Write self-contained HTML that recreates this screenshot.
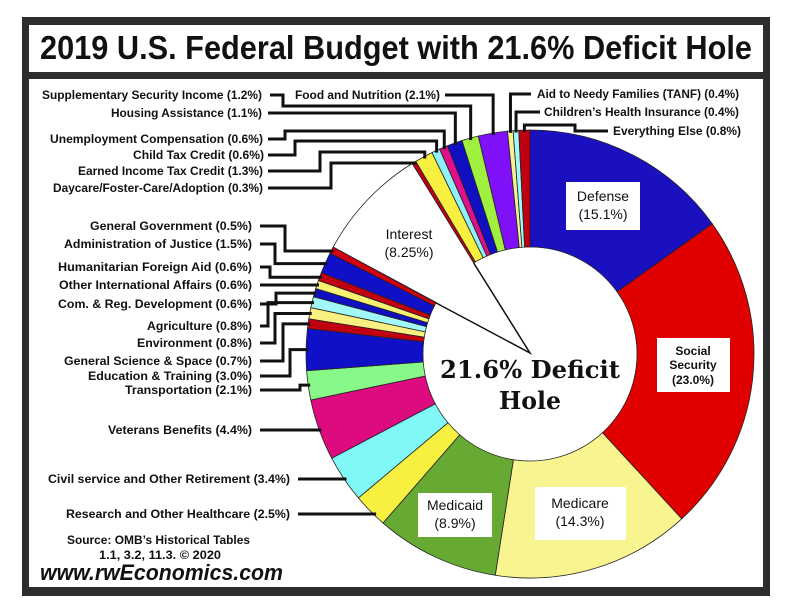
<!DOCTYPE html>
<html><head><meta charset="utf-8"><style>
html,body{margin:0;padding:0;background:#fff;}
svg{display:block;font-family:"Liberation Sans",Arial,sans-serif;}
</style></head><body>
<svg id="s" width="792" height="612" viewBox="0 0 792 612" xmlns="http://www.w3.org/2000/svg">
<rect x="22" y="17" width="748" height="579" fill="#2b2d2f"/>
<rect x="29" y="25" width="734" height="47" fill="#fff"/>
<rect x="29" y="79" width="734" height="508" fill="#fff"/>
<text x="40" y="59" font-size="33" font-weight="bold" textLength="712" lengthAdjust="spacingAndGlyphs" fill="#111">2019 U.S. Federal Budget with 21.6% Deficit Hole</text>
<g id="pie"></g>
<g id="lines" fill="none" stroke="#111" stroke-width="3"></g>
<g id="labels" font-size="12" font-weight="bold" fill="#111"></g>
</svg>
<script>
var cx=530,cy=354,R=224,r=107;
var d=[
["Defense",15.1,"#1a10c0"],["SS",23.0,"#e00000"],["Medicare",14.3,"#f8f590"],["Medicaid",8.9,"#66aa33"],
["Research",2.5,"#f8f040"],["Civil",3.4,"#80f8f8"],["Veterans",4.4,"#dd0a80"],["Transport",2.1,"#88f888"],
["Education",3.0,"#1010c8"],["GenSci",0.7,"#c00010"],["Env",0.8,"#f8f080"],["Agri",0.8,"#a0f8f8"],
["Com",0.6,"#1010c0"],["OtherIntl",0.6,"#f8f070"],["Hum",0.6,"#c00010"],["Admin",1.5,"#1010c8"],
["GenGov",0.5,"#d00010"],["Interest",8.25,"#ffffff"],["Daycare",0.3,"#c00010"],["EITC",1.3,"#f8f040"],
["Child",0.6,"#90f0f8"],["Unemp",0.6,"#e0108a"],["Housing",1.1,"#1010c0"],["SSI",1.2,"#a0f040"],
["Food",2.1,"#8010f8"],["TANF",0.4,"#f8f090"],["CHIP",0.4,"#a0f8f8"],["Else",0.8,"#c00010"]];
var tot=0;d.forEach(function(e){tot+=e[1];});
function pt(a,rad){return [cx+rad*Math.sin(a),cy-rad*Math.cos(a)];}
var pie=document.getElementById('pie'),mid={},acc=0,h='';
d.forEach(function(e){
 var a0=acc/tot*2*Math.PI;acc+=e[1];var a1=acc/tot*2*Math.PI;
 mid[e[0]]=(a0+a1)/2;var lg=(a1-a0)>Math.PI?1:0;
 var p0=pt(a0,R),p1=pt(a1,R),path;
 if(e[0]=="Interest"){path="M"+cx+" "+(cy-1)+"L"+p0+"A"+R+" "+R+" 0 "+lg+" 1 "+p1+"Z";}
 else{var q0=pt(a0,r),q1=pt(a1,r);path="M"+q0+"L"+p0+"A"+R+" "+R+" 0 "+lg+" 1 "+p1+"L"+q1+"A"+r+" "+r+" 0 "+lg+" 0 "+q0+"Z";}
 h+='<path d="'+path+'" fill="'+e[2]+'" stroke="#222" stroke-width="0.8"/>';
});
h+='<circle cx="'+cx+'" cy="'+cy+'" r="'+(r-0.5)+'" fill="#fff"/>';
var ia0=0;acc=0;d.forEach(function(e){if(e[0]=="Interest"){ia0=acc;}acc+=e[1];});
var A0=ia0/tot*2*Math.PI,A1=(ia0+8.25)/tot*2*Math.PI,i0=pt(A0,r),i1=pt(A1,r);
h+='<path d="M'+i0+'L'+cx+' '+(cy-1)+'L'+i1+'" fill="none" stroke="#111" stroke-width="1.5"/>';
function box(x,y,w,hh){return '<rect x="'+x+'" y="'+y+'" width="'+w+'" height="'+hh+'" fill="#fff"/>';}
h+=box(566,182,74,48)+box(657,338,73,54)+box(535,487,91,53)+box(418,493,74,44);
function t(x,y,s,fs,extra){return '<text x="'+x+'" y="'+y+'" font-size="'+fs+'" text-anchor="middle" fill="#111" '+(extra||'')+'>'+s+'</text>';}
h+=t(603,201,"Defense",14)+t(603,219,"(15.1%)",14);
h+=t(693,355,"Social",12,'font-weight="bold"')+t(693,369,"Security",12,'font-weight="bold"')+t(693,384,"(23.0%)",12,'font-weight="bold"');
h+=t(580,508,"Medicare",14)+t(580,526,"(14.3%)",14);
h+=t(455,510,"Medicaid",14)+t(455,528,"(8.9%)",14);
h+=t(409,239,"Interest",14)+t(409,257,"(8.25%)",14);
h+='<text x="530" y="378" font-size="24" font-weight="bold" text-anchor="middle" font-family="DejaVu Serif,serif" textLength="180" lengthAdjust="spacingAndGlyphs" fill="#111">21.6% Deficit</text>';
h+='<text x="530" y="409" font-size="24" font-weight="bold" text-anchor="middle" font-family="DejaVu Serif,serif" textLength="62" lengthAdjust="spacingAndGlyphs" fill="#111">Hole</text>';
pie.innerHTML=h;
var L=[["Supplementary Security Income (1.2%)",42,262,99],["Housing Assistance (1.1%)",111,262,117],["Food and Nutrition (2.1%)",295,440,99],
["Unemployment Compensation (0.6%)",50,263,143],["Child Tax Credit (0.6%)",133,264,159],["Earned Income Tax Credit (1.3%)",78,263,175],["Daycare/Foster-Care/Adoption (0.3%)",53,263,192],
["Aid to Needy Families (TANF) (0.4%)",537,739,98],["Children’s Health Insurance (0.4%)",544,739,116],["Everything Else (0.8%)",613,741,135],
["General Government (0.5%)",90,252,230],["Administration of Justice (1.5%)",64,252,248],["Humanitarian Foreign  Aid (0.6%)",58,252,271],["Other International Affairs (0.6%)",59,252,289],
["Com. &amp; Reg. Development (0.6%)",58,252,308],["Agriculture (0.8%)",147,252,330],["Environment (0.8%)",137,252,347],["General Science &amp; Space (0.7%)",64,252,365],
["Education &amp; Training (3.0%)",88,252,380],["Transportation (2.1%)",125,252,394],["Veterans Benefits (4.4%)",108,252,434],
["Civil service and Other Retirement (3.4%)",48,290,483],["Research and Other Healthcare (2.5%)",66,290,518],
["Source: OMB’s Historical Tables",67,250,544],["1.1, 3.2, 11.3. © 2020",99,221,559]];
var lh='';L.forEach(function(l){lh+='<text x="'+l[1]+'" y="'+l[3]+'" textLength="'+(l[2]-l[1])+'" lengthAdjust="spacingAndGlyphs">'+l[0]+'</text>';});
lh+='<text x="40" y="580" font-size="22" font-style="italic" textLength="243" lengthAdjust="spacingAndGlyphs">www.rwEconomics.com</text>';
document.getElementById('labels').innerHTML=lh;
function P(k,rad){return pt(mid[k],rad||R-2);}
var ln='';
function pl(a){ln+='<polyline points="'+a.map(function(p){return p.join(',');}).join(' ')+'"/>';}
[["SSI",270,95,283,106],["Unemp",268,139,285,131],["Child",268,155,295,141],["EITC",268,171,320,152],["Daycare",268,188,331,163]].forEach(function(g){
 var p=P(g[0]);pl([[g[1],g[2]],[g[3],g[2]],[g[3],g[4]],[p[0],g[4]],[p[0],p[1]]]);});
[["Food",445,95],["Housing",268,113],["TANF",531,94],["CHIP",540,112]].forEach(function(g){
 var p=P(g[0]);pl([[g[1],g[2]],[p[0],g[2]],[p[0],p[1]]]);});
var pe=P("Else");pl([[608,131],[575,131],[575,125],[pe[0],125],[pe[0],pe[1]]]);
[["GenGov",226,285],["Admin",244,275],["Hum",267,270],["OtherIntl",285,0],["Com",304,276],["Agri",326,268],["Env",343,275],["GenSci",361,283],["Education",376,290],["Transport",390,300],["Veterans",430,0],["Civil",479,0],["Research",514,0]].forEach(function(g){
 var p=P(g[0]);var x0=(g[0]=="Civil"||g[0]=="Research")?298:260;
 if(g[2]==0){var yy=g[1];var xx=cx-Math.sqrt(Math.max(0,(R-2)*(R-2)-(yy-cy)*(yy-cy)));pl([[x0,yy],[xx,yy]]);}
 else pl([[x0,g[1]],[g[2],g[1]],[g[2],p[1]],[p[0],p[1]]]);});
document.getElementById('lines').innerHTML=ln;
</script>
</body></html>
